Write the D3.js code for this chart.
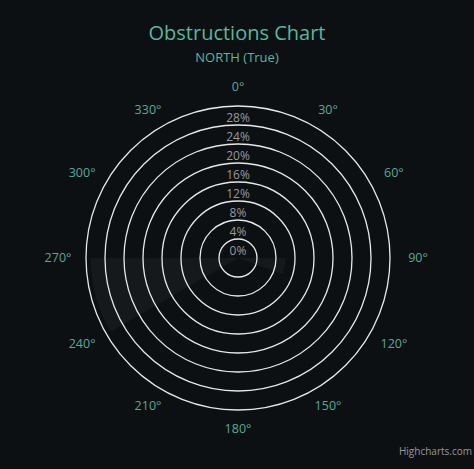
<!DOCTYPE html>
<html><head><meta charset="utf-8">
<script src="https://cdn.jsdelivr.net/npm/d3@7"></script>
<style>body{margin:0;background:#0c1013}</style>
</head><body><svg></svg>
<script>
var width = 474, height = 469;
var cx = 238, cy = 258;

var angleTicks = [0, 30, 60, 90, 120, 150, 180, 210, 240, 270, 300, 330];
var radialTicks = [0, 4, 8, 12, 16, 20, 24, 28];
// obstruction sectors: [start deg, end deg, value %]
var sectorStart = [240, 90];
var sectorEnd = [270, 110];
var sectorValue = [27, 6];

var svg = d3.select('svg').attr('width', width).attr('height', height);
svg.append('rect').attr('width', width).attr('height', height).attr('fill', '#0c1013');

var r = d3.scaleLinear().domain([0, 28]).range([19, 152]);
var g = svg.append('g').attr('transform', 'translate(' + cx + ',' + cy + ')');

var arc = d3.arc();
g.selectAll('path.sector')
    .data(sectorValue)
    .enter()
    .append('path')
    .attr('class', 'sector')
    .attr('fill', 'rgba(255,255,255,0.04)')
    .attr('d', function (d, i) {
        return arc({innerRadius: 0, outerRadius: r(d),
            startAngle: sectorStart[i] * Math.PI / 180, endAngle: sectorEnd[i] * Math.PI / 180});
    });

g.selectAll('circle')
    .data(radialTicks)
    .enter()
    .append('circle')
    .attr('r', function (d) { return r(d); })
    .attr('fill', 'none')
    .attr('stroke', '#e8e8e8')
    .attr('stroke-width', 1.3);

g.selectAll('text.rl')
    .data(radialTicks)
    .enter()
    .append('text')
    .attr('class', 'rl')
    .attr('text-anchor', 'middle')
    .attr('y', function (d) { return -r(d) + 16; })
    .attr('fill', '#9a9a9a')
    .style('font', '12px "Open Sans", sans-serif')
    .text(function (d) { return d + '%'; });

g.selectAll('text.al')
    .data(angleTicks)
    .enter()
    .append('text')
    .attr('class', 'al')
    .attr('text-anchor', 'middle')
    .attr('dy', '.35em')
    .attr('x', function (d) { return Math.sin(d * Math.PI / 180) * 180; })
    .attr('y', function (d) { return -Math.cos(d * Math.PI / 180) * 171; })
    .attr('fill', '#5aa893')
    .style('font', '12.5px "Open Sans", sans-serif')
    .text(function (d) { return d + '°'; });

svg.append('text').attr('x', 237).attr('y', 40).attr('text-anchor', 'middle')
    .attr('fill', '#5db59c').style('font', '20px "Open Sans", sans-serif')
    .text('Obstructions Chart');
svg.append('text').attr('x', 237).attr('y', 62).attr('text-anchor', 'middle')
    .attr('fill', '#5db59c').style('font', '13px "Open Sans", sans-serif')
    .text('NORTH (True)');
svg.append('text').attr('x', 472).attr('y', 455).attr('text-anchor', 'end')
    .attr('fill', '#999').style('font', '10px "Open Sans", sans-serif')
    .text('Highcharts.com');
</script></body></html>
